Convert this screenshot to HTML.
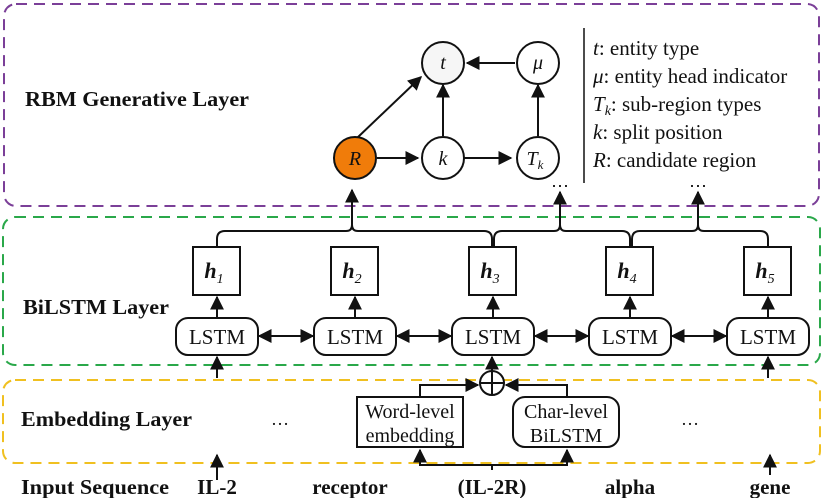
<!DOCTYPE html>
<html><head><style>body{margin:0;background:#fff}svg{display:block}</style></head><body>
<svg width="825" height="498" viewBox="0 0 825 498" xmlns="http://www.w3.org/2000/svg" font-family="Liberation Serif, serif">
<defs>
<marker id="a" viewBox="0 0 10 10" refX="9" refY="5" markerWidth="7" markerHeight="7" orient="auto-start-reverse"><path d="M0,0L10,5L0,10z" fill="#111"/></marker>
</defs>
<rect x="4" y="4" width="815" height="202" rx="12" fill="none" stroke="#7b3f98" stroke-width="2" stroke-dasharray="11,7"/>
<rect x="3" y="217" width="817" height="148" rx="12" fill="none" stroke="#2aa84a" stroke-width="2" stroke-dasharray="11,7"/>
<rect x="3" y="380" width="817" height="83" rx="12" fill="none" stroke="#f0c020" stroke-width="2" stroke-dasharray="11,7"/>
<g font-weight="bold" font-size="21" fill="#111">
<text x="25" y="106" textLength="224" lengthAdjust="spacingAndGlyphs">RBM Generative Layer</text>
<text x="23" y="314" textLength="146" lengthAdjust="spacingAndGlyphs">BiLSTM Layer</text>
<text x="21" y="426" textLength="171" lengthAdjust="spacingAndGlyphs">Embedding Layer</text>
<text x="21" y="494" textLength="148" lengthAdjust="spacingAndGlyphs">Input Sequence</text>
<text x="217" y="494" text-anchor="middle">IL-2</text>
<text x="350" y="494" text-anchor="middle">receptor</text>
<text x="492" y="494" text-anchor="middle">(IL-2R)</text>
<text x="630" y="494" text-anchor="middle">alpha</text>
<text x="770" y="494" text-anchor="middle">gene</text>
</g>
<g stroke="#111" stroke-width="2" fill="none">
<line x1="377" y1="158" x2="418" y2="158" marker-end="url(#a)"/>
<line x1="464" y1="158" x2="511" y2="158" marker-end="url(#a)"/>
<line x1="443" y1="136" x2="443" y2="85" marker-end="url(#a)"/>
<line x1="538" y1="136" x2="538" y2="85" marker-end="url(#a)"/>
<line x1="515" y1="63" x2="467" y2="63" marker-end="url(#a)"/>
<line x1="357" y1="138" x2="421" y2="77" marker-end="url(#a)"/>
<line x1="584" y1="28" x2="584" y2="183" stroke-width="1.5"/>
<path d="M217,247 V239 Q217,231 225,231 H346 Q352,231 352,225 Q352,231 358,231 H484 Q492,231 492,239 V247"/>
<path d="M352,225 V190" marker-end="url(#a)"/>
<path d="M494,247 V239 Q494,231 502,231 H554 Q560,231 560,225 Q560,231 566,231 H622 Q630,231 630,239 V247"/>
<path d="M560,225 V192" marker-end="url(#a)"/>
<path d="M632,247 V239 Q632,231 640,231 H692 Q698,231 698,225 Q698,231 704,231 H760 Q768,231 768,239 V247"/>
<path d="M698,225 V192" marker-end="url(#a)"/>
</g>
<circle cx="355" cy="158" r="21" fill="#f07c0a" stroke="#111" stroke-width="2"/>
<g fill="#fff" stroke="#111" stroke-width="2">
<circle cx="443" cy="158" r="21"/><circle cx="538" cy="158" r="21"/>
<circle cx="443" cy="63" r="21" fill="#f6f6f6"/><circle cx="538" cy="63" r="21"/>
</g>
<g font-style="italic" font-size="20" fill="#111" text-anchor="middle">
<text x="355" y="165">R</text><text x="443" y="165">k</text><text x="535" y="165">T<tspan font-size="13" dy="4">k</tspan></text>
<text x="443" y="69">t</text><text x="538" y="69">μ</text>
</g>
<g font-size="21" fill="#111">
<text x="593" y="55"><tspan font-style="italic">t</tspan>: entity type</text>
<text x="593" y="83"><tspan font-style="italic">μ</tspan>: entity head indicator</text>
<text x="593" y="111"><tspan font-style="italic">T<tspan font-size="14" dy="4">k</tspan></tspan><tspan dy="-4">: sub-region types</tspan></text>
<text x="593" y="139"><tspan font-style="italic">k</tspan>: split position</text>
<text x="593" y="167"><tspan font-style="italic">R</tspan>: candidate region</text>
</g>
<g font-size="18" fill="#111" text-anchor="middle">
<text x="560" y="192">⋯</text>
<text x="698" y="192">⋯</text>
<text x="280" y="425">…</text>
<text x="690" y="425">…</text>
</g>
<g stroke="#111" stroke-width="2" fill="none">
<g id="col">
<rect x="193" y="247" width="47" height="48" fill="#fff"/>
<rect x="176" y="318" width="82" height="37" rx="12" fill="#fff"/>
<line x1="217" y1="318" x2="217" y2="297" marker-end="url(#a)"/>
</g>
<use href="#col" x="138"/><use href="#col" x="276"/><use href="#col" x="413"/><use href="#col" x="551"/>
<g marker-start="url(#a)" marker-end="url(#a)">
<line x1="259" y1="336" x2="313" y2="336"/><line x1="397" y1="336" x2="451" y2="336"/>
<line x1="535" y1="336" x2="588" y2="336"/><line x1="672" y1="336" x2="726" y2="336"/>
</g>
<line x1="217" y1="378" x2="217" y2="357" marker-end="url(#a)"/>
<line x1="492" y1="371" x2="492" y2="357" marker-end="url(#a)"/>
<line x1="768" y1="378" x2="768" y2="357" marker-end="url(#a)"/>
<line x1="217" y1="480" x2="217" y2="455" marker-end="url(#a)"/>
<line x1="770" y1="475" x2="770" y2="455" marker-end="url(#a)"/>
<path d="M492,470 V465 H420 V450" marker-end="url(#a)"/>
<path d="M492,465 H567 V450" marker-end="url(#a)"/>
<rect x="357" y="397" width="106" height="50" fill="#fff"/>
<rect x="513" y="397" width="106" height="50" rx="12" fill="#fff"/>
<circle cx="492" cy="383" r="12" fill="#fff"/>
<line x1="480" y1="383" x2="504" y2="383"/><line x1="492" y1="371" x2="492" y2="395"/>
<path d="M420,397 V385 H478" marker-end="url(#a)"/>
<path d="M567,397 V385 H506" marker-end="url(#a)"/>
</g>
<g font-size="21" fill="#111" text-anchor="middle">
<text x="217" y="344">LSTM</text><text x="355" y="344">LSTM</text><text x="493" y="344">LSTM</text><text x="630" y="344">LSTM</text><text x="768" y="344">LSTM</text>
<text x="410" y="418" font-size="20">Word-level</text><text x="410" y="442" font-size="20">embedding</text>
<text x="566" y="418" font-size="20">Char-level</text><text x="566" y="442" font-size="20">BiLSTM</text>
</g>
<g font-size="22" fill="#111" font-weight="bold" font-style="italic" text-anchor="middle">
<text x="214" y="278">h<tspan font-size="14" font-weight="normal" dy="5">1</tspan></text>
<text x="352" y="278">h<tspan font-size="14" font-weight="normal" dy="5">2</tspan></text>
<text x="490" y="278">h<tspan font-size="14" font-weight="normal" dy="5">3</tspan></text>
<text x="627" y="278">h<tspan font-size="14" font-weight="normal" dy="5">4</tspan></text>
<text x="765" y="278">h<tspan font-size="14" font-weight="normal" dy="5">5</tspan></text>
</g>
</svg>
</body></html>
